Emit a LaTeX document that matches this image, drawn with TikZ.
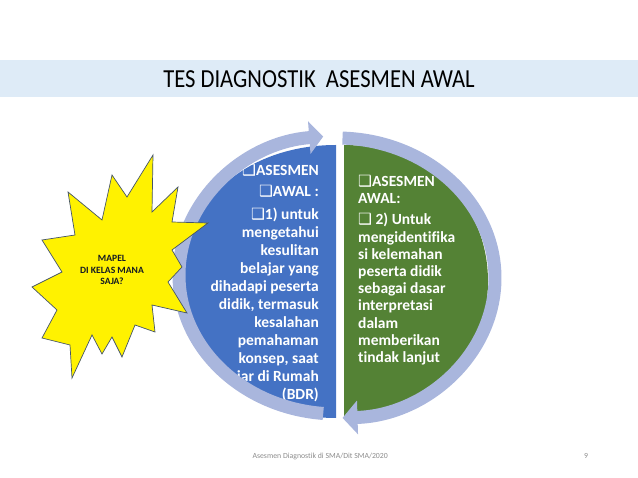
\documentclass[tikz,border=0pt]{standalone}
\usepackage{graphicx}
\usepackage{fontspec}
\setmainfont{Carlito}[Ligatures=NoCommon]
\newfontfamily\symfont{DejaVu Sans}
\usetikzlibrary{arrows.meta}

\definecolor{bandBlue}{HTML}{DEEBF7}
\definecolor{halfBlue}{HTML}{4472C4}
\definecolor{halfGreen}{HTML}{548235}
\definecolor{ringBlue}{HTML}{A9B6DD}
\definecolor{starLine}{HTML}{44546A}
\definecolor{starText}{HTML}{141A24}
\definecolor{footGray}{HTML}{8C8C8C}

\newcommand{\qbox}{{\symfont\char"2751}}

\tikzstyle{halftext} = [text=white, font=\fontsize{15.5}{18}\selectfont\bfseries, inner sep=0pt]
\tikzstyle{ring} = [draw=ringBlue, line width=13pt]

\begin{document}
\begin{tikzpicture}[x=1pt,y=-1pt]
\useasboundingbox (0,0) rectangle (638,478);

\fill[bandBlue] (0,60) rectangle (638,97);
\node (title) at (319,79) {\fontsize{26}{30}\selectfont\scalebox{0.87}[1]{TES DIAGNOSTIK\ \ ASESMEN AWAL}};

% two halves
\fill[halfBlue] (336,145) -- (336,418) .. controls (246,418) and (181,360) .. (181,281.5)
  .. controls (181,203) and (246,145) .. (336,145) -- cycle;
\fill[halfGreen] (344,145) -- (344,418) .. controls (428,418) and (488,360) .. (488,281.5)
  .. controls (488,203) and (428,145) .. (344,145) -- cycle;

\node[halftext, align=right, anchor=north east] (awalKiri) at (319,164)
  {\qbox ASESMEN\\[3pt] \qbox AWAL :\\[5pt] \qbox 1) untuk\\ mengetahui\\ kesulitan\\ belajar yang\\
   dihadapi peserta\\ didik, termasuk\\ kesalahan\\ pemahaman\\ konsep, saat\\ Belajar di Rumah\\ (BDR)};
\node[halftext, font=\fontsize{15.5}{17.2}\selectfont\bfseries, align=left, anchor=north west] (awalKanan) at (358,175)
  {\qbox ASESMEN\\ AWAL:\\[4pt] \qbox\ 2) Untuk\\ mengidentifika\\ si kelemahan\\ peserta didik\\
   sebagai dasar\\ interpretasi\\ dalam\\ memberikan\\ tindak lanjut};

% circular arrows
\draw[ring, -{Triangle[width=32pt,length=14pt]}] (337,275) ++(95:158 and 139)
  arc[start angle=95, end angle=265, x radius=158, y radius=139];
\draw[ring, -{Triangle[width=33pt,length=15pt]}] (337,278) ++(-88:158 and 140)
  arc[start angle=-88, end angle=88, x radius=158, y radius=140];

% star
\filldraw[fill=yellow, draw=starLine, line width=0.7pt]
  (153,155) -- (152,212) -- (178,187) -- (172,222) -- (208,223) -- (172,250)
  -- (182,267) -- (168,282) -- (187,313) -- (152,305) -- (155,332) -- (135,325)
  -- (122,357) -- (112,337) -- (102,354) -- (92,335) -- (72,378) -- (70,345)
  -- (42,338) -- (57,310) -- (32,287) -- (62,272) -- (42,240) -- (75,235)
  -- (68,192) -- (102,220) -- (112,175) -- (127,197) -- cycle;
\node[text=starText, font=\fontsize{9.6}{11.3}\selectfont\bfseries, align=center] (mapel) at (112,270)
  {MAPEL\\ DI KELAS MANA\\ SAJA?};

\node[text=footGray, font=\fontsize{7.8}{9}\selectfont, anchor=west] (footer) at (249,456)
  {Asesmen Diagnostik di SMA/Dit SMA/2020};
\node[text=footGray, font=\fontsize{7.8}{9}\selectfont] (page) at (586,456) {9};
\end{tikzpicture}
\end{document}
